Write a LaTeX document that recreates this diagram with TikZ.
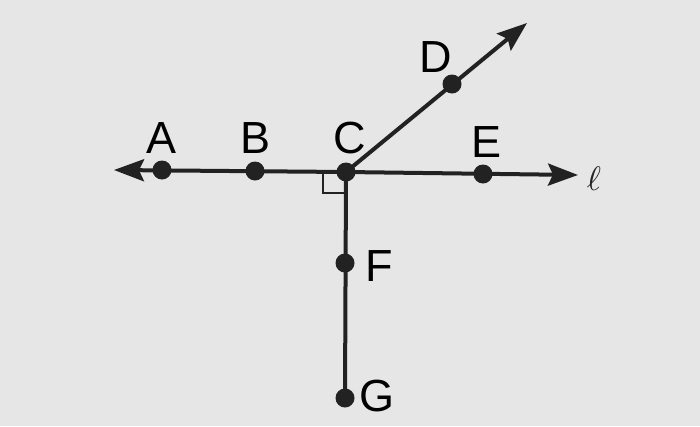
\documentclass[tikz,border=0pt]{standalone}
\usepackage{fontspec}
\setmainfont{Liberation Sans}
\usetikzlibrary{arrows.meta}
\definecolor{bg}{HTML}{E6E6E6}
\definecolor{ink}{HTML}{222222}
\tikzset{
  pt/.style={circle, fill=ink, inner sep=0pt, minimum size=19pt},
  lab/.style={text=black, font=\fontsize{45}{50}\selectfont, inner sep=0pt},
  ln/.style={draw=ink, line width=4pt},
  tip/.style={-{Stealth[length=30pt,width=22pt,inset=5pt]}}
}
\begin{document}
\begin{tikzpicture}[x=1pt,y=-1pt]
\fill[bg] (0,0) rectangle (700,426);
\useasboundingbox (0,0) rectangle (700,426);
% points
\node[pt] (A) at (162,170) {};
\node[pt] (B) at (255,171) {};
\node[pt] (C) at (346,172) {};
\node[pt] (E) at (483,174) {};
\node[pt] (D) at (452,84) {};
\node[pt] (F) at (345,263) {};
\node[pt] (G) at (345,398) {};
\coordinate (L) at (114,170);
\coordinate (R) at (578,175);
\coordinate (U) at (527,23);
% lines
\draw[ln] (C.center) -- (G.center);
\draw[ln,tip] (C.center) -- (L);
\draw[ln,tip] (C.center) -- (R);
\draw[ln,tip] (C.center) -- (U);
% right angle mark
\draw[draw=ink, line width=1.5pt] (323,172) -- (323,193) -- (345,193);
% labels
\node[lab] (lA) at (162,138) {A};
\node[lab] (lB) at (256,138) {B};
\node[lab] (lC) at (350,138) {C};
\node[lab] (lD) at (436,57) {D};
\node[lab] (lE) at (486,142) {E};
\node[lab] (lF) at (379,266) {F};
\node[lab] (lG) at (377,396) {G};
\node[text=ink, scale=3.4, inner sep=0pt] (ell) at (594,179) {$\ell$};
\end{tikzpicture}
\end{document}
